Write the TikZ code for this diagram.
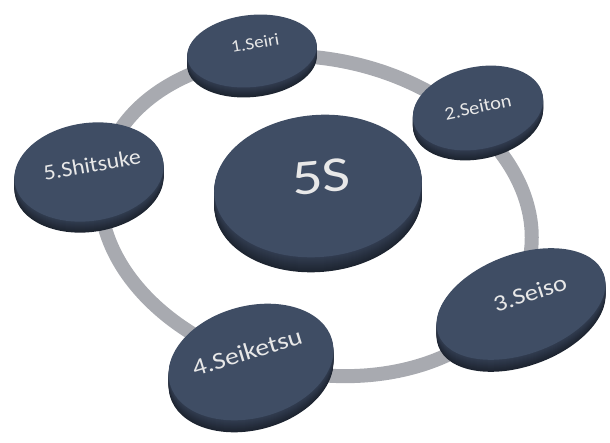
\documentclass[tikz,border=0pt]{standalone}
\usepackage{fontspec}
\setmainfont{Carlito}
\definecolor{topface}{HTML}{3F4D64}
\definecolor{sidetop}{HTML}{323D51}
\definecolor{sidebot}{HTML}{1D2430}
\definecolor{ringgray}{HTML}{A8AAB0}
\definecolor{labeltext}{HTML}{E8E8E8}
\tikzset{
  ringline/.style={draw=ringgray, line width=14pt},
  disclabel/.style={text=labeltext, inner sep=0pt},
}
\newcommand\drawdisc[6]{%
  \foreach \k in {#6,...,1}{%
    \pgfmathtruncatemacro\pp{100*\k/#6}%
    \fill[sidebot!\pp!sidetop, rotate around={#5:(#1,#2-\k)}] (#1,#2-\k) ellipse [x radius=#3pt, y radius=#4pt];
  }%
  \fill[topface, rotate around={#5:(#1,#2)}] (#1,#2) ellipse [x radius=#3pt, y radius=#4pt];
}
\begin{document}
\begin{tikzpicture}[x=1pt,y=1pt]
\useasboundingbox (0,0) rectangle (610,442);
\clip (0,0) rectangle (610,442);
% ring
\draw[ringline, rotate around={-12:(316,226)}] (316,226) ellipse [x radius=218pt, y radius=157pt];
% discs
\drawdisc{252}{391}{65}{36}{6}{10}
\drawdisc{478}{334}{66}{41}{12}{10}
\drawdisc{521}{138}{88}{50}{20}{12}
\drawdisc{251}{80}{84}{56}{15}{12}
\drawdisc{89}{270}{75}{49}{8}{11}
\drawdisc{318}{256}{104}{71}{5}{15}
% labels
\node[disclabel, font=\fontsize{17}{17}\selectfont, rotate=10, xscale=1.13] (seiri) at (255,399) {1.Seiri};
\node[disclabel, font=\fontsize{18.5}{18.5}\selectfont, rotate=12, xscale=1.1] (seiton) at (478,335) {2.Seiton};
\node[disclabel, font=\fontsize{23}{23}\selectfont, rotate=18, xscale=1.15] (seiso) at (530,149) {3.Seiso};
\node[disclabel, font=\fontsize{24}{24}\selectfont, rotate=17, xscale=1.15] (seiketsu) at (247,90) {4.Seiketsu};
\node[disclabel, font=\fontsize{22}{22}\selectfont, rotate=10, xscale=1.08] (shitsuke) at (92,277) {5.Shitsuke};
\node[disclabel, font=\fontsize{50}{50}\selectfont, rotate=5, xscale=1.22] (fives) at (321,265) {5S};
\end{tikzpicture}
\end{document}
